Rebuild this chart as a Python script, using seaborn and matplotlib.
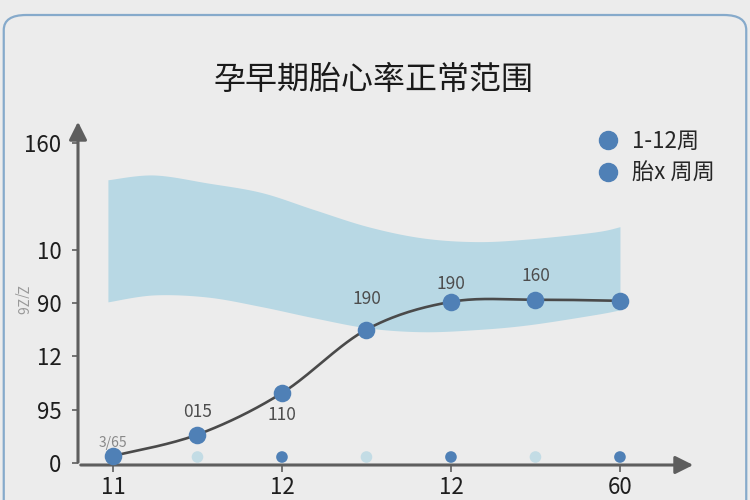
import matplotlib
matplotlib.use("Agg")

import matplotlib.pyplot as plt
import numpy as np
import pandas as pd
import seaborn as sns
from matplotlib.lines import Line2D
from matplotlib.patches import FancyBboxPatch

# values (y in tick-slot units, 0..6)
weeks = [0.0, 0.5, 1.0, 1.5, 2.0, 2.5, 3.0]
rate = [0.13, 0.53, 1.31, 2.50, 3.02, 3.06, 3.04]
point_labels = ["3/65", "015", "110", "190", "190", "160", ""]
label_dy = [13, 23, -22, 31, 18, 24, 0]

band_x = [-0.03, 0.24, 0.56, 0.88, 1.19, 1.51, 1.83, 2.15, 2.46, 2.85, 3.0]
band_top = [5.31, 5.40, 5.25, 5.07, 4.75, 4.43, 4.22, 4.15, 4.20, 4.33, 4.43]
band_low = [3.02, 3.15, 3.11, 2.93, 2.72, 2.53, 2.46, 2.50, 2.59, 2.78, 2.87]

base_y = [0.11, 0.11, 0.11, 0.11, 0.11, 0.11, 0.11]
base_shade = ["dark", "light", "dark", "light", "dark", "light", "dark"]

ytick_pos = [0, 1, 2, 3, 4, 6]
ytick_labels = ["0", "95", "12", "90", "10", "160"]
xtick_pos = [0, 1, 2, 3]
xtick_labels = ["11", "12", "12", "60"]
legend_labels = ["1-12周", "胎x 周周"]
title = "孕早期胎心率正常范围"

BLUE = "#4f80b6"
LIGHT = "#c3dce5"
BAND = "#b8d8e4"
AXIS = "#5e5e5e"
BG = "#ececec"


def smooth(xs, ys, n=30):
    # catmull-rom pass for drawing only
    p = np.column_stack([xs, ys]).astype(float)
    p = np.vstack([p[0], p, p[-1]])
    out = []
    for i in range(1, len(p) - 2):
        p0, p1, p2, p3 = p[i - 1], p[i], p[i + 1], p[i + 2]
        t = np.linspace(0, 1, n, endpoint=False)[:, None]
        seg = 0.5 * ((2 * p1) + (-p0 + p2) * t + (2 * p0 - 5 * p1 + 4 * p2 - p3) * t ** 2
                     + (-p0 + 3 * p1 - 3 * p2 + p3) * t ** 3)
        out.append(seg)
    out.append(p[-2][None, :])
    out = np.vstack(out)
    return out[:, 0], out[:, 1]


sns.set_theme(style="white")
plt.rcParams["font.family"] = ["Noto Sans CJK SC", "DejaVu Sans"]

fig = plt.figure(figsize=(7.5, 5), dpi=100, facecolor=BG)
frame = FancyBboxPatch((0.005, -0.05), 0.99, 1.02, boxstyle="round,pad=0,rounding_size=0.03",
                       transform=fig.transFigure, facecolor=BG, edgecolor="#86aacb", linewidth=1.6,
                       zorder=-10)
fig.patches.append(frame)

ax = fig.add_axes([0.104, 0.07, 0.824, 0.692])
ax.set_facecolor("none")
ax.set_xlim(-0.207, 3.45)
ax.set_ylim(-0.04, 6.45)
for s in ax.spines.values():
    s.set_visible(False)

# normal range band
tx, ty = smooth(band_x, band_top)
lx, ly = smooth(band_x, band_low)
ax.fill_between(tx, ty, np.interp(tx, lx, ly), color=BAND, linewidth=0, zorder=1)

# baseline dots
base = pd.DataFrame({"week": weeks, "y": base_y, "shade": base_shade})
sns.scatterplot(data=base, x="week", y="y", hue="shade", palette={"dark": BLUE, "light": LIGHT},
                s=70, linewidth=0, legend=False, ax=ax, zorder=3)

# heart rate curve
cx, cy = smooth(weeks, rate)
ax.plot(cx, cy, color="#4a4a4a", linewidth=1.9, zorder=4)
df = pd.DataFrame({"week": weeks, "rate": rate})
sns.scatterplot(data=df, x="week", y="rate", color=BLUE, s=160, linewidth=0, ax=ax, zorder=5)

for x, y, lab, dy in zip(weeks, rate, point_labels, label_dy):
    if not lab:
        continue
    col = "#888888" if lab == "3/65" else "#4d4d4d"
    fs = 10 if lab == "3/65" else 12.5
    ax.annotate(lab, (x, y), xytext=(0, dy), textcoords="offset pixels", ha="center", va="center",
                fontsize=fs, color=col, zorder=6)

# arrow axes
ax.annotate("", xy=(3.45, -0.04), xytext=(-0.207, -0.04), annotation_clip=False,
            arrowprops=dict(arrowstyle="-|>,head_length=0.9,head_width=0.45", color=AXIS, lw=2.2))
ax.annotate("", xy=(-0.207, 6.45), xytext=(-0.207, -0.04), annotation_clip=False,
            arrowprops=dict(arrowstyle="-|>,head_length=0.9,head_width=0.45", color=AXIS, lw=2.2))

ax.set_yticks(ytick_pos)
ax.set_yticklabels(ytick_labels, fontsize=16, color="#1e1e1e")
ax.set_xticks(xtick_pos)
ax.set_xticklabels(xtick_labels, fontsize=16, color="#1e1e1e")
ax.tick_params(axis="y", length=4, width=1.2, color=AXIS, pad=8, left=True)
ax.tick_params(axis="x", length=5, width=1.2, color=AXIS, pad=3, bottom=True)
ax.set_xlabel("")
ax.set_ylabel("")

fig.text(0.027, 0.40, "Z/Z6", rotation=-90, fontsize=10, color="#999999", ha="center", va="center")
fig.text(0.498, 0.84, title, fontsize=23, color="#1a1a1a", ha="center", va="center")

handles = [Line2D([], [], marker="o", linestyle="none", markersize=13, color=BLUE) for _ in legend_labels]
fig.legend(handles, legend_labels, loc="upper left", bbox_to_anchor=(0.781, 0.762), frameon=False,
           fontsize=16, handletextpad=0.6, labelspacing=0.4, borderpad=0, handlelength=1.0)

fig.savefig("out.png", dpi=100, facecolor=BG)
